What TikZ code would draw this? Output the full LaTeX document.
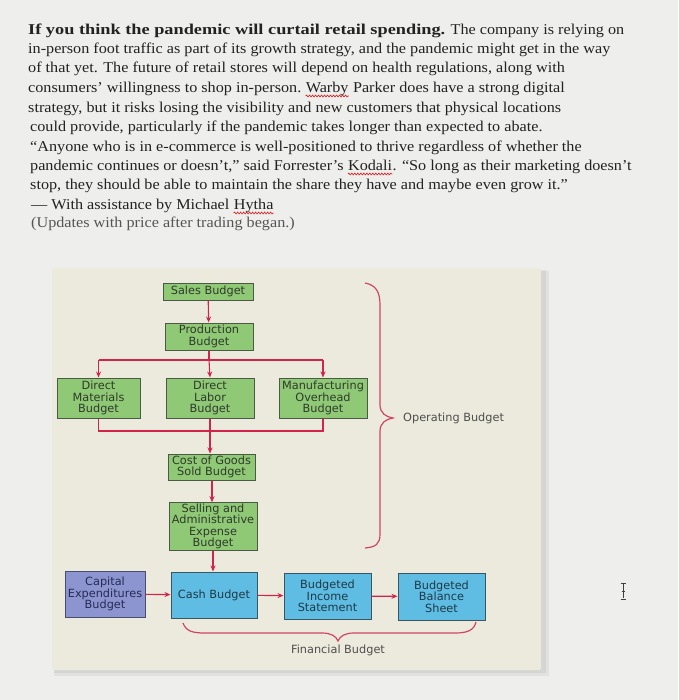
\documentclass[tikz,border=0pt]{standalone}
\usepackage{fontspec}
\setmainfont{Liberation Serif}[FakeStretch=1.08]
\newfontfamily\titlefont{Liberation Serif}[FakeStretch=1.22]
\newfontfamily\diafont{DejaVu Sans}
\usetikzlibrary{arrows.meta,decorations.pathmorphing}
\definecolor{spellred}{HTML}{D42A2A}
\definecolor{pagebg}{HTML}{EEEEEC}
\definecolor{panelbg}{HTML}{ECEADC}
\definecolor{txtc}{HTML}{222222}
\definecolor{graytxt}{HTML}{555555}
\definecolor{gfill}{HTML}{8FC975}
\definecolor{gdraw}{HTML}{4A5A46}
\definecolor{gtext}{HTML}{2F3A2C}
\definecolor{bfill}{HTML}{5FBCE2}
\definecolor{bdraw}{HTML}{3A5662}
\definecolor{btext}{HTML}{1E3A48}
\definecolor{pfill}{HTML}{8C95CF}
\definecolor{pdraw}{HTML}{4A4E6E}
\definecolor{ptext}{HTML}{262B55}
\definecolor{arrred}{HTML}{D2234A}
\definecolor{bracered}{HTML}{CF4562}
\definecolor{labtxt}{HTML}{4E4E4E}
\tikzset{
  txt/.style={anchor=base west, inner sep=0pt, text=txtc, font=\fontsize{15}{18}\selectfont},
  wave/.style={draw=spellred, line width=0.7pt, decorate, decoration={snake, amplitude=0.9pt, segment length=3pt}},
  box/.style={draw, line width=1pt, align=center, inner sep=1pt,
    font=\diafont\fontsize{11.3}{11.5}\selectfont},
  gbox/.style={box, fill=gfill, draw=gdraw, text=gtext},
  bbox/.style={box, fill=bfill, draw=bdraw, text=btext},
  pbox/.style={box, fill=pfill, draw=pdraw, text=ptext},
  flow/.style={draw=arrred, line width=1.1pt},
  arr/.style={flow, -{Stealth[length=6pt,width=5pt]}},
  brace/.style={draw=bracered, line width=1.2pt},
  lab/.style={text=labtxt, font=\diafont\fontsize{11.3}{12}\selectfont, inner sep=0pt}
}
\begin{document}
\begin{tikzpicture}[x=1pt,y=-1pt]
\useasboundingbox (0,0) rectangle (678,700);
\fill[pagebg] (0,0) rectangle (678,700);
% article text
\node[txt] (l1) at (28,35) {{\titlefont\bfseries If you think the pandemic will curtail retail spending.} The company is relying on};
\node[txt] (l2) at (28,54) {in-person foot traffic as part of its growth strategy, and the pandemic might get in the way};
\node[txt] (l3) at (28,73) {of that yet. The future of retail stores will depend on health regulations, along with};
\node[txt] (l4a) at (28,93) {consumers’ willingness to shop in-person.\ \mbox{}};
\node[txt] (w1) at (l4a.base east) {Warby};
\node[txt] (l4b) at (w1.base east) {\mbox{}\ Parker does have a strong digital};
\node[txt] (l5) at (28,113) {strategy, but it risks losing the visibility and new customers that physical locations};
\node[txt] (l6) at (30,132) {could provide, particularly if the pandemic takes longer than expected to abate.};
\node[txt] (l7) at (30,152) {“Anyone who is in e-commerce is well-positioned to thrive regardless of whether the};
\node[txt] (l8a) at (30,171) {pandemic continues or doesn’t,” said Forrester’s\ \mbox{}};
\node[txt] (w2) at (l8a.base east) {Kodali};
\node[txt] (l8b) at (w2.base east) {. “So long as their marketing doesn’t};
\node[txt] (l9) at (30,190) {stop, they should be able to maintain the share they have and maybe even grow it.”};
\node[txt] (l10a) at (31,210) {— With assistance by Michael\ \mbox{}};
\node[txt] (w3) at (l10a.base east) {Hytha};
\node[txt, text=graytxt] (l11) at (31,228) {(Updates with price after trading began.)};
\draw[wave] ([yshift=-3pt]w1.base west) -- ([yshift=-3pt]w1.base east);
\draw[wave] ([yshift=-3pt]w2.base west) -- ([yshift=-3pt]w2.base east);
\draw[wave] ([yshift=-3pt]w3.base west) -- ([yshift=-3pt]w3.base east);
% panel
\fill[black, opacity=0.05] (54,271) rectangle (549,676);
\fill[black, opacity=0.05] (54,270) rectangle (546,673);
\fill[panelbg, rounded corners=2pt] (52,268) rectangle (541,670);
% boxes
\node[gbox, minimum width=90pt, minimum height=17pt] (sales) at (208,291.5) {Sales Budget};
\node[gbox, minimum width=88pt, minimum height=27pt] (prod) at (209,336.5) {Production\\Budget};
\node[gbox, minimum width=83pt, minimum height=40pt] (dm) at (98.5,398) {Direct\\Materials\\Budget};
\node[gbox, minimum width=88pt, minimum height=40pt] (dl) at (210,398) {Direct\\Labor\\Budget};
\node[gbox, minimum width=88pt, minimum height=40pt] (mo) at (323,398) {Manufacturing\\Overhead\\Budget};
\node[gbox, minimum width=87pt, minimum height=26pt] (cogs) at (211.5,467) {Cost of Goods\\Sold Budget};
\node[gbox, minimum width=88pt, minimum height=47pt] (sa) at (213,526.5) {Selling and\\Administrative\\Expense\\Budget};
\node[pbox, minimum width=80pt, minimum height=46pt] (capex) at (105,594) {Capital\\Expenditures\\Budget};
\node[bbox, minimum width=86pt, minimum height=46pt] (cash) at (214,595) {Cash Budget};
\node[bbox, minimum width=87pt, minimum height=46pt] (bis) at (327.5,596) {Budgeted\\Income\\Statement};
\node[bbox, minimum width=87pt, minimum height=47pt] (bbs) at (441.5,596.5) {Budgeted\\Balance\\Sheet};
% junctions
\coordinate (jtop) at (prod.south |- 0,360);
\coordinate (jl) at (dm.north |- jtop);
\coordinate (jr) at (mo.north |- jtop);
\coordinate (jbl) at (dm.south |- 0,431);
\coordinate (jbr) at (mo.south |- 0,431);
% connectors
\draw[arr] (sales) -- (prod);
\draw[flow] (prod.south) -- (jtop);
\draw[flow] (jl) -- (jr);
\draw[arr] (jl) -- (dm.north);
\draw[arr] (jr) -- (mo.north);
\draw[arr] (jtop) -- (dl.north);
\draw[flow] (dm.south) -- (jbl) -- (jbr) -- (mo.south);
\draw[arr] (dl.south) -- (dl.south |- cogs.north);
\draw[arr] (cogs.south -| 212,0) -- (212,0 |- sa.north);
\draw[arr] (sa.south) -- (sa.south |- cash.north);
\draw[arr] (capex) -- (cash);
\draw[arr] (cash) -- (bis);
\draw[arr] (bis) -- (bbs);
% braces
\draw[brace] (365,283) .. controls (376,285) and (380,292) .. (380,305) -- (380,405) .. controls (380,413) and (386,417) .. (393,418) .. controls (386,419) and (380,423) .. (380,431) -- (380,534) .. controls (380,544) and (376,547) .. (365,548);
\node[lab, anchor=west] (oplab) at (403,418) {Operating Budget};
\draw[brace] (183,623) .. controls (186,631) and (192,633) .. (205,633) -- (322,633) .. controls (331,633) and (336,636) .. (338,641) .. controls (340,636) and (345,633) .. (354,633) -- (455,633) .. controls (468,633) and (474,630) .. (476,622);
\node[lab] (finlab) at (338,650) {Financial Budget};
% text cursor
\draw[line width=0.9pt, draw=black!75] (623,584) -- (623,598) (620.5,583) -- (625.5,583) (620.5,599) -- (625.5,599) (621.5,591) -- (624.5,591);
\end{tikzpicture}
\end{document}
